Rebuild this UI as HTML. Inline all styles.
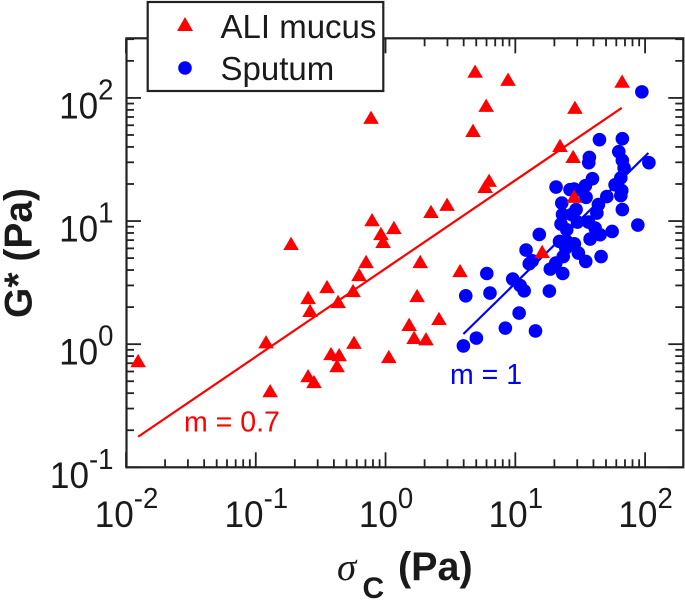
<!DOCTYPE html>
<html lang="en">
<head>
<meta charset="utf-8">
<title>G* versus critical stress</title>
<style>
html,body{margin:0;padding:0;background:#fff;width:685px;height:601px;overflow:hidden}
svg{display:block}
text{font-family:"Liberation Sans",sans-serif;fill:#1a1a1a}
</style>
</head>
<body>
<svg id="chart" xmlns="http://www.w3.org/2000/svg" width="685" height="601" viewBox="0 0 685 601">
  <rect x="0" y="0" width="685" height="601" fill="#fff"/>
  <g id="ticks"></g>
  <g id="tick-labels"></g>
  <rect x="126.5" y="38.3" width="556.8" height="429" fill="none" stroke="#222" stroke-width="2.2"/>
  <g id="marks"></g>
  <text x="184" y="431.7" font-size="28.5" style="fill:#ff0000">m = 0.7</text>
  <text x="450" y="384" font-size="28.5" style="fill:#0000ff">m = 1</text>
  <text transform="translate(31.5,253) rotate(-90)" text-anchor="middle" font-size="39" font-weight="bold">G* (Pa)</text>
  <g>
    <text x="337" y="580" font-size="39" font-style="italic" style="font-family:'Liberation Serif',serif">σ</text>
    <text x="362.5" y="598" font-size="30" font-weight="bold">C</text>
    <text x="398" y="580" font-size="39.5" font-weight="bold">(Pa)</text>
  </g>
  <g>
    <rect x="147.7" y="2" width="235.6" height="89" fill="#fff" stroke="#222" stroke-width="2.2"/>
    <polygon points="185,17 193,31 177,31" fill="#ff0000"/>
    <text x="220.5" y="38" font-size="33">ALI mucus</text>
    <circle cx="185" cy="68" r="6.8" fill="#0000ff"/>
    <text x="220.5" y="80" font-size="33">Sputum</text>
  </g>
</svg>
<script>
// Data (values in Pa)
const aliSigma = [0.0124,0.120,0.129,0.187,0.253,0.262,0.253,0.281,0.354,0.431,0.380,0.439,0.423,0.571,0.562,0.625,0.708,1.06,0.773,0.787,0.922,0.957,1.16,4.90,8.79,66.5,5.96,28.8,4.72,22.1,27.9,6.28,5.85,2.98,2.24,28.4,16.1,1.85,3.75,1.75,2.58,1.52,1.66,2.05];
const aliModulus = [0.731,1.04,0.417,6.54,2.38,1.87,0.552,0.494,2.92,2.21,0.834,0.818,0.666,1.03,2.71,3.66,4.67,0.789,69.2,10.2,7.88,6.79,8.82,164,141,136,86.6,83.4,54.2,40.9,33.3,21.3,19.0,13.6,11.9,15.8,5.63,4.67,3.94,2.47,1.61,1.44,1.13,1.10];
const sputumSigma = [94.4,44.5,66.8,62.7,66.8,107,37.2,36.8,68.9,39.3,65.0,58.7,34.7,20.6,26.4,28.4,66.1,32.5,35.1,50.7,65.0,22.8,43.7,42.5,29.4,66.8,23.1,27.2,30.1,22.5,36.6,87.9,24.9,41.2,45.0,55.7,15.3,37.7,21.9,28.5,24.9,24.5,12.1,30.6,45.8,23.4,34.9,13.5,12.8,20.5,18.6,23.2,6.03,9.55,10.9,11.7,18.3,6.38,4.15,10.7,8.38,14.3,5.01,3.98];
const sputumModulus = [112,45.8,46.7,36.6,31.1,29.8,32.9,29.8,27.0,22.1,22.4,19.7,19.4,18.9,18.0,18.2,17.7,17.7,15.6,15.8,16.1,14.0,13.6,11.6,12.4,12.4,11.3,11.3,9.82,9.46,9.82,9.28,8.50,8.77,7.74,8.23,7.78,7.14,6.83,6.54,6.83,6.03,5.81,5.50,5.15,5.15,4.70,4.75,4.50,4.56,4.07,3.75,3.75,3.38,2.99,2.71,2.70,2.60,2.47,1.79,1.35,1.28,1.12,0.968];
const aliFitSigma = [0.0124,66.1];
const aliFitModulus = [0.177,83.0];
const sputumFitSigma = [3.98,106];
const sputumFitModulus = [1.21,35.7];
const xDecades = [-2,-1,0,1,2];
const yDecades = [-1,0,1,2];
const xTickLabels = ["-2","-1","0","1","2"];
const yTickLabels = ["-1","0","1","2"];
const xDomain = [0.01,197];
const yDomain = [0.1,305];

const SVGNS = 'http://www.w3.org/2000/svg';
const plot = {left:126,right:683.3,top:38.3,bottom:467.3};
const xLogMin = Math.log10(xDomain[0]), xLogMax = Math.log10(xDomain[1]);
const yLogMin = Math.log10(yDomain[0]), yLogMax = Math.log10(yDomain[1]);
function xScale(v){ return plot.left + (Math.log10(v)-xLogMin)/(xLogMax-xLogMin)*(plot.right-plot.left); }
function yScale(v){ return plot.bottom - (Math.log10(v)-yLogMin)/(yLogMax-yLogMin)*(plot.bottom-plot.top); }
function make(tag, parent){ const el = document.createElementNS(SVGNS, tag); parent.appendChild(el); return el; }

const ticksG = document.getElementById('ticks');
const labelsG = document.getElementById('tick-labels');
const marksG = document.getElementById('marks');

function tickLine(x1,y1,x2,y2){
  const t = make('line', ticksG);
  
  
  t.setAttribute('x1', x1); t.setAttribute('y1', y1);
  t.setAttribute('x2', x2); t.setAttribute('y2', y2);
  t.setAttribute('stroke', '#222');
  t.setAttribute('stroke-width', '1.8');
}
const MAJOR = 15, MINOR = 8;
for (let d = -2; d <= 2; d++) {
  for (let m = 1; m <= 9; m++) {
    const v = m * Math.pow(10, d);
    if (v < xDomain[0] || v > xDomain[1]) continue;
    const x = xScale(v), len = m === 1 ? MAJOR : MINOR;
    tickLine(x, plot.bottom, x, plot.bottom - len);
    tickLine(x, plot.top, x, plot.top + len);
  }
}
for (let d = -1; d <= 2; d++) {
  for (let m = 1; m <= 9; m++) {
    const v = m * Math.pow(10, d);
    if (v < yDomain[0] || v > yDomain[1]) continue;
    const y = yScale(v), len = m === 1 ? MAJOR : MINOR;
    tickLine(plot.left, y, plot.left + len, y);
    tickLine(plot.right, y, plot.right - len, y);
  }
}

function powerLabel(x, y, anchor, exponent){
  const t = make('text', labelsG);
  
  
  t.setAttribute('transform', 'translate(' + x + ',' + y + ') scale(0.95,1)');
  t.setAttribute('text-anchor', anchor);
  t.setAttribute('font-size', '37');
  t.appendChild(document.createTextNode('10'));
  const s = make('tspan', t);
  s.setAttribute('font-size', '29');
  s.setAttribute('dy', '-19');
  s.textContent = exponent;
}
xDecades.forEach(function(d,i){ powerLabel(xScale(Math.pow(10,d)) + 0.5, 527, 'middle', xTickLabels[i]); });
yDecades.forEach(function(d,i){ powerLabel(113.5, yScale(Math.pow(10,d)) + 20.5, 'end', yTickLabels[i]); });

function fitLine(xs, ys, color, name){
  const l = make('line', marksG);
  
  
  l.setAttribute('x1', xScale(xs[0])); l.setAttribute('y1', yScale(ys[0]));
  l.setAttribute('x2', xScale(xs[1])); l.setAttribute('y2', yScale(ys[1]));
  l.setAttribute('stroke', color);
  l.setAttribute('stroke-width', '2.2');
}

fitLine(sputumFitSigma, sputumFitModulus, '#0000ff', 'sputum-fit-line');
sputumSigma.forEach(function(v,i){
  const c = make('circle', marksG);
  
  
  c.setAttribute('cx', xScale(v));
  c.setAttribute('cy', yScale(sputumModulus[i]));
  c.setAttribute('r', '6.8');
  c.setAttribute('fill', '#0000ff');
});
fitLine(aliFitSigma, aliFitModulus, '#ff0000', 'ali-mucus-fit-line');
aliSigma.forEach(function(v,i){
  const x = xScale(v), y = yScale(aliModulus[i]);
  const p = make('polygon', marksG);
  
  
  p.setAttribute('points', x + ',' + (y-7) + ' ' + (x+7.8) + ',' + (y+6.3) + ' ' + (x-7.8) + ',' + (y+6.3));
  p.setAttribute('fill', '#ff0000');
});
</script>
</body>
</html>
